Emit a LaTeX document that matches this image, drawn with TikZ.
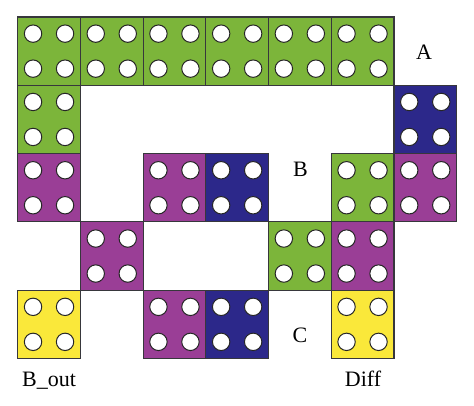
\documentclass[tikz,border=0pt]{standalone}
\usepackage{fontspec}
\setmainfont{Liberation Serif}
\definecolor{lgreen}{RGB}{124,181,58}
\definecolor{lpurple}{RGB}{154,62,150}
\definecolor{lblue}{RGB}{44,40,138}
\definecolor{lyellow}{RGB}{250,232,58}
\definecolor{edge}{RGB}{55,55,60}
\begin{document}
\begin{tikzpicture}[x=1pt,y=-1pt,
  brick/.style={draw=edge,line width=1.2pt,minimum width=62.7pt,minimum height=68.3pt,inner sep=0pt,outer sep=0pt},
  stud/.style={draw=black!85,fill=white,line width=1pt},
  lbl/.style={font=\fontsize{22}{26}\selectfont,anchor=base,inner sep=0pt}]
\useasboundingbox (0,0) rectangle (474,406);
\foreach \c/\r/\col [count=\i] in {
  0/0/lgreen,1/0/lgreen,2/0/lgreen,3/0/lgreen,4/0/lgreen,5/0/lgreen,
  0/1/lgreen,6/1/lblue,
  0/2/lpurple,2/2/lpurple,3/2/lblue,5/2/lgreen,6/2/lpurple,
  1/3/lpurple,4/3/lgreen,5/3/lpurple,
  0/4/lyellow,2/4/lpurple,3/4/lblue,5/4/lyellow}{
  \node[brick,fill=\col] (b\i) at ({17.7+62.7*(\c+0.5)},{17+68.3*(\r+0.5)}) {};
  \foreach \dx in {-16,16} \foreach \dy in {-17.5,17.5}
    \draw[stud] ([shift={(\dx,\dy)}]b\i.center) circle [radius=8.7];
}
\node[lbl] (la) at (424,59.3) {A};
\node[lbl] (lb) at (300.5,176.7) {B};
\node[lbl] (lc) at (300,342.7) {C};
\node[lbl] (lbo) at (49,386.5) {B\_out};
\node[lbl] (ld) at (363,386.5) {Diff};
\end{tikzpicture}
\end{document}
